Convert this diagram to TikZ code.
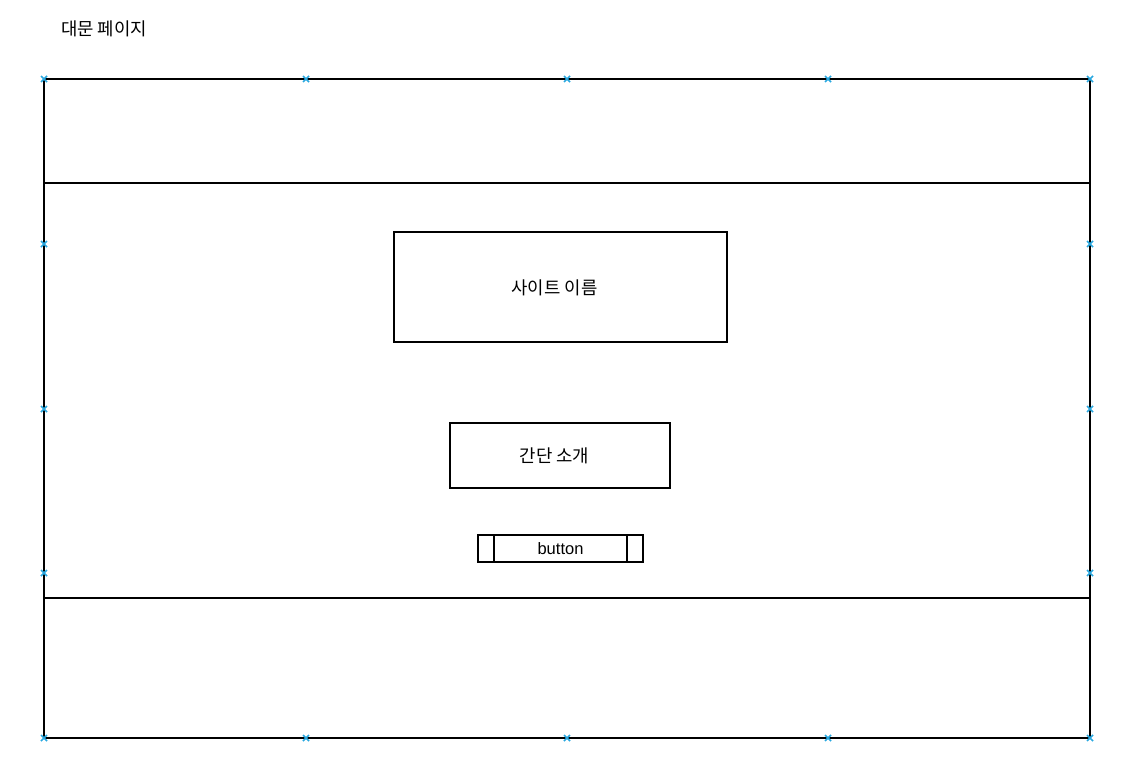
\documentclass[tikz,border=0pt]{standalone}
\usepackage{fontspec}
\setmainfont{Liberation Sans}
\newfontfamily\kr{Noto Sans CJK KR}
\definecolor{mk}{HTML}{29A8E0}
\begin{document}
\begin{tikzpicture}[x=1pt,y=-1pt,
  box/.style={draw=black,line width=1.25pt},
  lbl/.style={font=\kr\fontsize{17.8}{21}\selectfont,inner sep=0pt},
  marker/.style={draw=mk,line width=1.5pt}]
\useasboundingbox (0,0) rectangle (1128,776);
% outer frame
\draw[box] (44,79) rectangle (1090,738);
\coordinate (l1) at (44,183); \coordinate (r1) at (1090,183);
\coordinate (l2) at (44,598); \coordinate (r2) at (1090,598);
\draw[box] (l1) -- (r1);
\draw[box] (l2) -- (r2);
% title
\node[lbl,anchor=west] (title) at (61,29) {대문 페이지};
% site name box
\node[box,minimum width=333pt,minimum height=110pt] (site) at (560.5,287) {};
\node[lbl] (sitetxt) at ([xshift=-6pt,yshift=-1pt]site.center) {사이트 이름};
% intro box
\node[box,minimum width=220pt,minimum height=65pt] (intro) at (560,455.5) {};
\node[lbl] (introtxt) at ([xshift=-5.5pt]intro.center) {간단 소개};
% button
\node[box,minimum width=165pt,minimum height=27pt,inner sep=0pt,font=\fontsize{16.5}{19}\selectfont] (btn) at (560.5,548.5) {button};
\draw[box] (494,535) -- (494,562);
\draw[box] (627,535) -- (627,562);
% markers
\foreach \x/\y in {44/79,306/79,567/79,828/79,1090/79,
                44/738,306/738,567/738,828/738,1090/738,
                44/244,44/409,44/573,1090/244,1090/409,1090/573}{
  \draw[marker] (\x-3,\y-3) -- (\x+3,\y+3) (\x-3,\y+3) -- (\x+3,\y-3);
}
\end{tikzpicture}
\end{document}
